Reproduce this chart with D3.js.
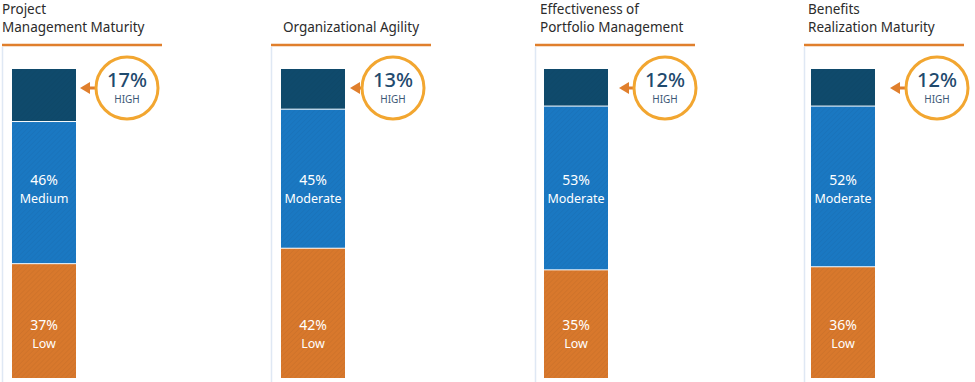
<!DOCTYPE html>
<html><head><meta charset="utf-8">
<script src="https://cdn.jsdelivr.net/npm/d3@7"></script>
<style>html,body{margin:0;padding:0;background:#fff;}svg{display:block;}</style>
</head><body>
<script>
// ---- data ----
const titles = [["Project","Management Maturity"],["Organizational Agility"],["Effectiveness of","Portfolio Management"],["Benefits","Realization Maturity"]];
const highValues = [17,13,12,12];
const midValues = [46,45,53,52];
const lowValues = [37,42,35,36];
const midLabels = ["Medium","Moderate","Moderate","Moderate"];
const lowLabels = ["Low","Low","Low","Low"];
const highLabel = "HIGH";

// ---- layout ----
const W = 975, H = 382;
const panelX = [2, 271, 535, 804];
const lineW = 160;
const barOff = [10, 10, 9, 7];
const barW = 64;
const circleOff = [125, 122, 130, 133];
const arrowGap = [4, 5, 11, 15];
const titleAlign = ["start","middle","start","start"];
const titleOff = [0, 80, 5, 4];
const font = "'Noto Sans', sans-serif";

const colors = {high:"#0f4a6c", mid:"#1a78c2", low:"#d8782c"};

const svg = d3.select("body").append("svg").attr("width", W).attr("height", H);
const defs = svg.append("defs");
Object.entries(colors).forEach(([k,c]) => {
  const p = defs.append("pattern").attr("id","hatch-"+k).attr("patternUnits","userSpaceOnUse")
    .attr("width",3.5).attr("height",3.5).attr("patternTransform","rotate(45)");
  p.append("rect").attr("width",3.5).attr("height",3.5).attr("fill",c);
  p.append("line").attr("x1",0).attr("y1",0).attr("x2",0).attr("y2",3.5)
    .attr("stroke", d3.color(c).darker(0.4)).attr("stroke-width",1).attr("opacity",0.55);
});

const y = d3.scaleLinear().domain([0,100]).range([378, 69]);

titles.forEach((t,i) => {
  const g = svg.append("g").attr("transform",`translate(${panelX[i]},0)`);
  // title
  const txt = g.append("text").attr("font-family",font).attr("font-size",13.5).attr("fill","#2b2b2b")
    .attr("text-anchor",titleAlign[i]);
  const baselines = t.length === 2 ? [14, 32] : [32];
  t.forEach((line,j) => txt.append("tspan").attr("x",titleOff[i]).attr("y",baselines[j]).text(line));
  // divider
  g.append("line").attr("x1",0).attr("x2",lineW).attr("y1",45).attr("y2",45)
    .attr("stroke","#e07f2c").attr("stroke-width",2.5);
  // left faint line
  g.append("line").attr("x1",0.5).attr("x2",0.5).attr("y1",47).attr("y2",H)
    .attr("stroke","#dfe8f4").attr("stroke-width",1.5);
  // segments
  const segs = [
    {k:"low", v0:0, v1:lowValues[i]},
    {k:"mid", v0:lowValues[i], v1:lowValues[i]+midValues[i]},
    {k:"high", v0:lowValues[i]+midValues[i], v1:100}
  ];
  const bx = barOff[i];
  g.selectAll("rect.seg").data(segs).join("rect").attr("class","seg")
    .attr("x",bx).attr("width",barW)
    .attr("y",d => y(d.v1) + (d.k==="high"?0:0.5))
    .attr("height",d => y(d.v0) - y(d.v1) - (d.k==="high"?0.5:(d.k==="low"?0.5:1)))
    .attr("fill",d => `url(#hatch-${d.k})`);
  // labels
  const cx = bx + barW/2;
  g.append("text").attr("x",cx).attr("y",185).attr("text-anchor","middle").attr("font-family",font)
    .attr("font-size",14).attr("fill","#fff").text(midValues[i]+"%");
  g.append("text").attr("x",cx).attr("y",203).attr("text-anchor","middle").attr("font-family",font)
    .attr("font-size",12.5).attr("fill","#fff").text(midLabels[i]);
  g.append("text").attr("x",cx).attr("y",330).attr("text-anchor","middle").attr("font-family",font)
    .attr("font-size",14).attr("fill","#fff").text(lowValues[i]+"%");
  g.append("text").attr("x",cx).attr("y",348).attr("text-anchor","middle").attr("font-family",font)
    .attr("font-size",12.5).attr("fill","#fff").text(lowLabels[i]);
  // circle callout
  const ccx = circleOff[i], ccy = 88, r = 31;
  const tip = bx + barW + arrowGap[i];
  g.append("line").attr("x1",ccx - r).attr("x2",tip + 8).attr("y1",ccy).attr("y2",ccy)
    .attr("stroke","#e07f2c").attr("stroke-width",3);
  g.append("path").attr("d",`M${tip},${ccy} L${tip+10},${ccy-6} L${tip+10},${ccy+6} Z`).attr("fill","#e07f2c");
  g.append("circle").attr("cx",ccx).attr("cy",ccy).attr("r",r).attr("fill","#fff")
    .attr("stroke","#f2a630").attr("stroke-width",3);
  g.append("text").attr("x",ccx).attr("y",ccy-1).attr("text-anchor","middle").attr("font-family",font)
    .attr("font-size",20).attr("font-weight",500).attr("fill","#1f4a6e").text(highValues[i]+"%");
  g.append("text").attr("x",ccx).attr("y",ccy+15).attr("text-anchor","middle").attr("font-family",font)
    .attr("font-size",10).attr("fill","#3d5876").text(highLabel);
});
</script>
</body></html>
